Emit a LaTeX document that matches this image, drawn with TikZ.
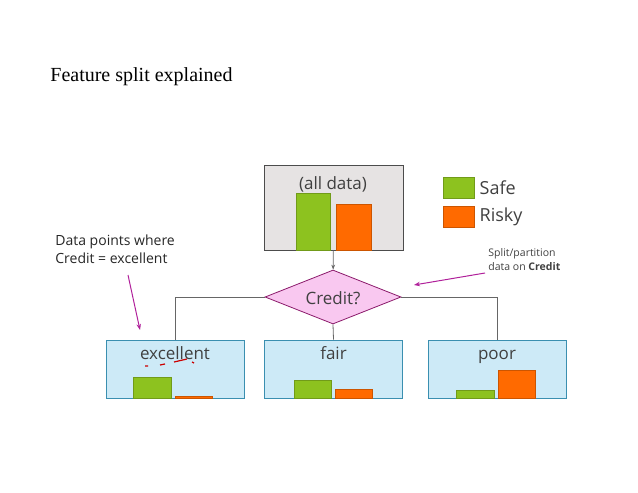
\documentclass[tikz,border=0pt]{standalone}
\usepackage{fontspec}
\setmainfont{Open Sans}
\newfontfamily\titlefont{Liberation Serif}
\usetikzlibrary{shapes.geometric}
\usetikzlibrary{positioning}
\usetikzlibrary{arrows.meta}
\definecolor{safeg}{HTML}{8DC21F}
\definecolor{riskyo}{HTML}{FF6A00}
\definecolor{leafb}{HTML}{CDEAF7}
\definecolor{leafe}{HTML}{3A8FB0}
\definecolor{rootg}{HTML}{E6E3E3}
\definecolor{pinkd}{HTML}{F9C8F0}
\definecolor{purpd}{HTML}{8B1A6B}
\definecolor{magarr}{HTML}{B0209A}
\begin{document}
\begin{tikzpicture}[x=1pt, y=-1pt, font=\sffamily, line width=0.8pt]
\tikzstyle{leaf}=[draw=leafe, fill=leafb, rectangle, minimum width=138pt, minimum height=58pt, inner sep=0pt]
\tikzstyle{root}=[draw=black!70, fill=rootg, rectangle, minimum width=139pt, minimum height=85pt, inner sep=0pt]
\tikzstyle{split}=[draw=purpd, fill=pinkd, diamond, aspect=2.5, minimum width=136pt, minimum height=54pt, inner sep=0pt]
\tikzstyle{safe}=[fill=safeg, draw=safeg!80!black, line width=0.5pt]
\tikzstyle{risky}=[fill=riskyo, draw=riskyo!80!black, line width=0.5pt]
\tikzstyle{wire}=[draw=black!60]
\tikzstyle{big}=[font=\fontsize{17}{20}\selectfont, text=black!75, anchor=base, inner sep=0pt]
\tikzstyle{note}=[-{Stealth[length=6pt]}, draw=magarr, line width=1pt]
\useasboundingbox (0,0) rectangle (638,493);

\node[anchor=base west, font=\titlefont\fontsize{20}{24}\selectfont, inner sep=0pt] (title) at (50,81) {Feature split explained};

\node[root] (all) at (333.5,207.5) {};
\node[big] (alllab) at (333,189) {(all data)};
\fill[safe] (296,193) rectangle (330,250);
\fill[risky] (336,204) rectangle (371,250);

\node[split] (credit) at (333,297) {};
\node[big, anchor=center, yshift=-1pt] (creditlab) at (credit) {Credit?};

\node[leaf] (exc) at (175,369) {};
\node[leaf] (fair) at (333.5,369) {};
\node[leaf] (poor) at (497,369) {};
\foreach \n/\t in {exc/excellent, fair/fair, poor/poor}
  \node[big] at (\n.center |- 0,359) {\t};

% class bars
\fill[safe] (133,377) rectangle (171,398);
\fill[risky] (175,396) rectangle (212,398);
\fill[safe] (294,380) rectangle (331,398);
\fill[risky] (335,389) rectangle (372,398);
\fill[safe] (456,390) rectangle (494,398);
\fill[risky] (498,370) rectangle (535,398);
\draw[red!80!black, line width=1.2pt] (145,366) -- (148,366) (160,365) -- (165,364) (174,362) -- (187,359) (192,362) -- (194,363);

% connectors
\draw[wire, -{Stealth[length=5pt]}] (all) -- (credit);
\draw[wire] (credit.west) -| (exc.north);
\draw[wire] (credit.east) -| (poor.north);
\draw[wire] (credit.south) -- (fair.north);

% legend
\node[safe, minimum width=31pt, minimum height=21pt, inner sep=0pt] (lsafe) at (458.5,187.5) {};
\node[risky, minimum width=31pt, minimum height=21pt, inner sep=0pt, below=8pt of lsafe] (lrisky) {};
\node[big, anchor=west, font=\fontsize{18}{20}\selectfont] at ([xshift=5pt]lsafe.east) {Safe};
\node[big, anchor=west, font=\fontsize{18}{20}\selectfont] at ([xshift=5pt]lrisky.east) {Risky};

% notes
\node[anchor=north west, align=left, font=\fontsize{14}{18}\selectfont, inner sep=0pt, text=black!85] (pts) at (55,234) {Data points where\\ Credit = excellent};
\coordinate (ptsend) at (140,330);
\draw[note] (128,275) -- (ptsend);
\node[anchor=north west, align=left, font=\fontsize{10.5}{14}\selectfont, inner sep=0pt, text=black!75] (part) at (488,248) {Split/partition\\ data on \textbf{Credit}};
\coordinate (partend) at (414,285);
\draw[note] (485,273) -- (partend);
\end{tikzpicture}
\end{document}
